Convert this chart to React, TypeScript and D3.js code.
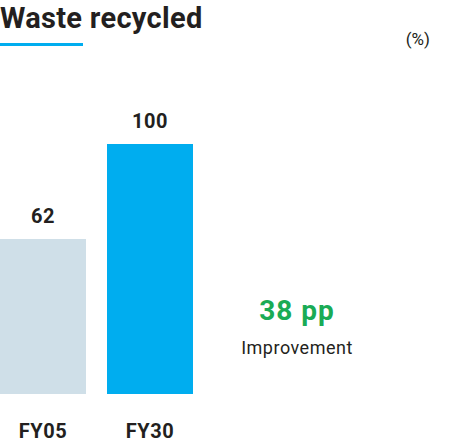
import React from "react";
import * as d3 from "d3";

const categories = ["FY05", "FY30"];
const values = [62, 100];
const barColors = ["#cfdfe8", "#00adef"];
const title = "Waste recycled";
const unit = "(%)";
const improvementValue = "38 pp";
const improvementLabel = "Improvement";

const W = 450;
const H = 445;

export default function App() {
  const x = d3.scaleBand<string>().domain(categories).range([0, 193]).paddingInner(21 / 107).paddingOuter(0);
  const y = d3.scaleLinear().domain([0, 100]).range([394, 144]);
  const font = "Roboto, 'DejaVu Sans', sans-serif";
  const dark = "#231f20";
  return (
    <div style={{ position: "fixed", left: 0, top: 0 }}>
      <svg width={W} height={H} style={{ display: "block" }} fontFamily={font}>
        <rect width={W} height={H} fill="#ffffff" />
        <text x={0} y={28} fontSize={29} fontWeight={700} letterSpacing={0.3} fill={dark}>{title}</text>
        <rect x={0} y={43} width={83} height={3} fill="#00adef" />
        <text x={430} y={45} textAnchor="end" fontSize={17} fill={dark}>{unit}</text>
        {categories.map((c, i) => (
          <g key={c}>
            <rect x={x(c)} y={y(values[i])} width={x.bandwidth()} height={y(0) - y(values[i])} fill={barColors[i]} />
            <text x={(x(c) as number) + x.bandwidth() / 2} y={y(values[i]) - 16} textAnchor="middle" fontSize={20} fontWeight={700} letterSpacing={0.5} fill={dark}>{values[i]}</text>
            <text x={(x(c) as number) + x.bandwidth() / 2} y={438} textAnchor="middle" fontSize={20} fontWeight={700} letterSpacing={0.5} fill={dark}>{c}</text>
          </g>
        ))}
        <text x={297} y={320} textAnchor="middle" fontSize={28} fontWeight={700} letterSpacing={1} fill="#1aab55">{improvementValue}</text>
        <text x={297} y={354} textAnchor="middle" fontSize={18} letterSpacing={0.5} fill={dark}>{improvementLabel}</text>
      </svg>
    </div>
  );
}
